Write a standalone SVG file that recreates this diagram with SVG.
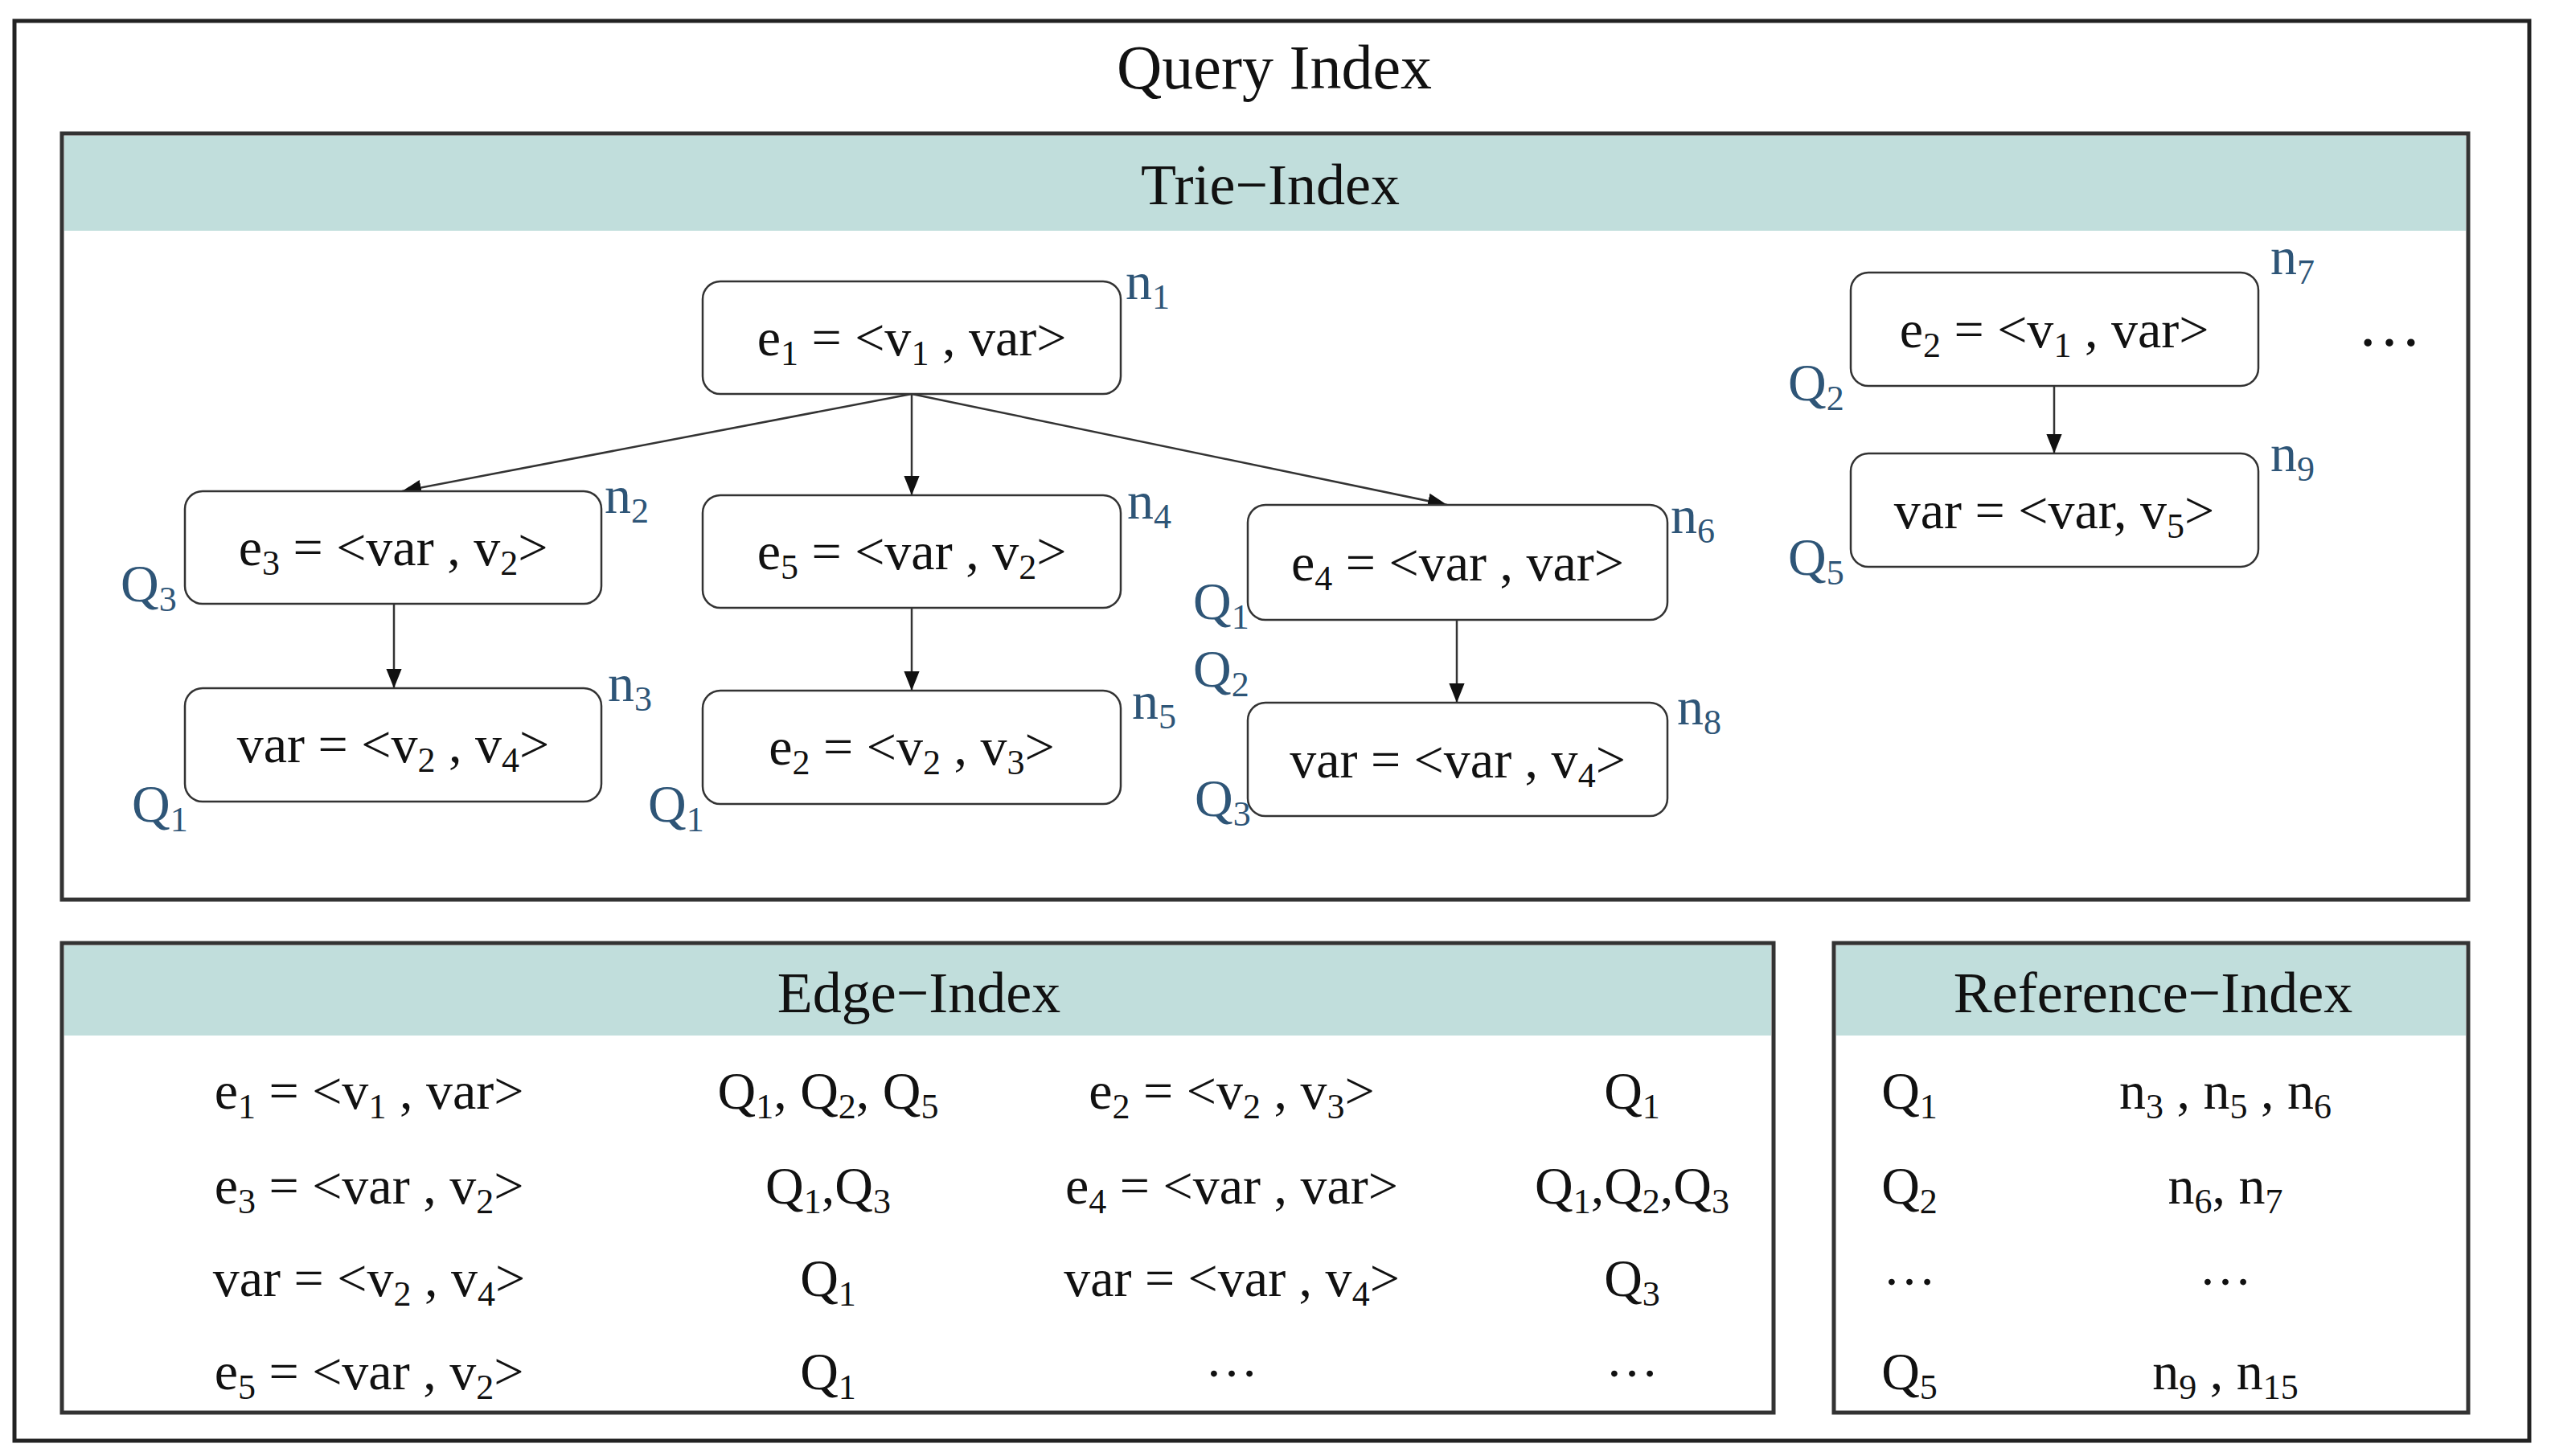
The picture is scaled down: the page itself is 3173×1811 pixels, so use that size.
<svg xmlns="http://www.w3.org/2000/svg" width="3173" height="1811" viewBox="0 0 3173 1811">
<style>
text{font-family:"Liberation Serif","DejaVu Serif",serif;fill:#111}
.t{font-size:66px;text-anchor:middle}
.h{font-size:72px;text-anchor:middle}
.lb{font-size:66px;fill:#2e5577}
.s{font-size:44px}
.node{fill:#fff;stroke:#333;stroke-width:2.5}
.panel{fill:#fff;stroke:#333;stroke-width:5}
.band{fill:#c1dedc}
.con line{stroke:#333;stroke-width:2.5;marker-end:url(#b)}
</style>
<defs>
<marker id="b" viewBox="0 0 10 10" refX="10" refY="5" markerWidth="24" markerHeight="24" markerUnits="userSpaceOnUse" orient="auto"><path d="M0,1L10,5L0,9z" fill="#111"/></marker></defs>
<rect x="0" y="0" width="3173" height="1811" fill="#fff"/>
<rect x="18" y="26" width="3128" height="1766" fill="none" stroke="#222" stroke-width="5"/>
<text class="h" x="1585" y="110" style="font-size:78px">Query Index</text>

<g id="trie-panel">
<rect class="panel" x="77" y="166" width="2993" height="953"/>
<rect class="band" x="80" y="169" width="2987" height="118"/>
<text class="h" x="1580" y="254">Trie−Index</text>
</g>

<g class="con" id="connectors">
<line x1="1134" y1="490" x2="500" y2="611"/>
<line x1="1134" y1="490" x2="1134" y2="616"/>
<line x1="1134" y1="490" x2="1800" y2="628"/>
<line x1="490" y1="751" x2="490" y2="856"/>
<line x1="1134" y1="756" x2="1134" y2="859"/>
<line x1="1812" y1="771" x2="1812" y2="874"/>
<line x1="2555" y1="480" x2="2555" y2="564"/>
</g>

<g id="n1"><rect class="node" x="874" y="350" width="520" height="140" rx="22"/>
<text class="t" x="1134" y="442">e<tspan class="s" dy="12">1</tspan><tspan dy="-12"> = &lt;v</tspan><tspan class="s" dy="12">1</tspan><tspan dy="-12"> , var&gt;</tspan></text>
<text class="lb" x="1400" y="372">n<tspan class="s" dy="12">1</tspan></text></g>

<g id="n2"><rect class="node" x="230" y="611" width="518" height="140" rx="22"/>
<text class="t" x="489" y="703">e<tspan class="s" dy="12">3</tspan><tspan dy="-12"> = &lt;var , v</tspan><tspan class="s" dy="12">2</tspan><tspan dy="-12">&gt;</tspan></text>
<text class="lb" x="752" y="638">n<tspan class="s" dy="12">2</tspan></text>
<text class="lb" x="150" y="748">Q<tspan class="s" dy="12">3</tspan></text></g>

<g id="n3"><rect class="node" x="230" y="856" width="518" height="141" rx="22"/>
<text class="t" x="489" y="948">var  = &lt;v<tspan class="s" dy="12">2</tspan><tspan dy="-12"> , v</tspan><tspan class="s" dy="12">4</tspan><tspan dy="-12">&gt;</tspan></text>
<text class="lb" x="756" y="872">n<tspan class="s" dy="12">3</tspan></text>
<text class="lb" x="164" y="1022">Q<tspan class="s" dy="12">1</tspan></text></g>

<g id="n4"><rect class="node" x="874" y="616" width="520" height="140" rx="22"/>
<text class="t" x="1134" y="708">e<tspan class="s" dy="12">5</tspan><tspan dy="-12"> = &lt;var , v</tspan><tspan class="s" dy="12">2</tspan><tspan dy="-12">&gt;</tspan></text>
<text class="lb" x="1402" y="645">n<tspan class="s" dy="12">4</tspan></text></g>

<g id="n5"><rect class="node" x="874" y="859" width="520" height="141" rx="22"/>
<text class="t" x="1134" y="951">e<tspan class="s" dy="12">2</tspan><tspan dy="-12"> = &lt;v</tspan><tspan class="s" dy="12">2</tspan><tspan dy="-12"> , v</tspan><tspan class="s" dy="12">3</tspan><tspan dy="-12">&gt;</tspan></text>
<text class="lb" x="1408" y="894">n<tspan class="s" dy="12">5</tspan></text>
<text class="lb" x="806" y="1022">Q<tspan class="s" dy="12">1</tspan></text></g>

<g id="n6"><rect class="node" x="1552" y="628" width="522" height="143" rx="22"/>
<text class="t" x="1813" y="722">e<tspan class="s" dy="12">4</tspan><tspan dy="-12"> = &lt;var , var&gt;</tspan></text>
<text class="lb" x="2078" y="663">n<tspan class="s" dy="12">6</tspan></text>
<text class="lb" x="1484" y="770">Q<tspan class="s" dy="12">1</tspan></text>
<text class="lb" x="1484" y="854">Q<tspan class="s" dy="12">2</tspan></text></g>

<g id="n8"><rect class="node" x="1552" y="874" width="522" height="141" rx="22"/>
<text class="t" x="1813" y="967">var = &lt;var , v<tspan class="s" dy="12">4</tspan><tspan dy="-12">&gt;</tspan></text>
<text class="lb" x="2086" y="901">n<tspan class="s" dy="12">8</tspan></text>
<text class="lb" x="1486" y="1015">Q<tspan class="s" dy="12">3</tspan></text></g>

<g id="n7"><rect class="node" x="2302" y="339" width="507" height="141" rx="22"/>
<text class="t" x="2555" y="432">e<tspan class="s" dy="12">2</tspan><tspan dy="-12"> = &lt;v</tspan><tspan class="s" dy="12">1</tspan><tspan dy="-12"> , var&gt;</tspan></text>
<text class="lb" x="2824" y="341">n<tspan class="s" dy="12">7</tspan></text>
<text class="lb" x="2224" y="498">Q<tspan class="s" dy="12">2</tspan></text></g>

<g id="n9"><rect class="node" x="2302" y="564" width="507" height="141" rx="22"/>
<text class="t" x="2555" y="657">var = &lt;var, v<tspan class="s" dy="12">5</tspan><tspan dy="-12">&gt;</tspan></text>
<text class="lb" x="2824" y="586">n<tspan class="s" dy="12">9</tspan></text>
<text class="lb" x="2224" y="715">Q<tspan class="s" dy="12">5</tspan></text></g>

<g id="more"><text class="t" x="2972" y="430" style="font-size:80px">…</text></g>

<g id="edge-index">
<rect class="panel" x="77" y="1173" width="2129" height="584"/>
<rect class="band" x="80" y="1176" width="2123" height="112"/>
<text class="h" x="1143" y="1259">Edge−Index</text>
<text class="t" x="459" y="1379">e<tspan class="s" dy="12">1</tspan><tspan dy="-12"> = &lt;v</tspan><tspan class="s" dy="12">1</tspan><tspan dy="-12"> , var&gt;</tspan></text>
<text class="t" x="1030" y="1379">Q<tspan class="s" dy="12">1</tspan><tspan dy="-12">, Q</tspan><tspan class="s" dy="12">2</tspan><tspan dy="-12">, Q</tspan><tspan class="s" dy="12">5</tspan></text>
<text class="t" x="1532" y="1379">e<tspan class="s" dy="12">2</tspan><tspan dy="-12"> = &lt;v</tspan><tspan class="s" dy="12">2</tspan><tspan dy="-12"> , v</tspan><tspan class="s" dy="12">3</tspan><tspan dy="-12">&gt;</tspan></text>
<text class="t" x="2030" y="1379">Q<tspan class="s" dy="12">1</tspan></text>
<text class="t" x="459" y="1497">e<tspan class="s" dy="12">3</tspan><tspan dy="-12"> = &lt;var , v</tspan><tspan class="s" dy="12">2</tspan><tspan dy="-12">&gt;</tspan></text>
<text class="t" x="1030" y="1497">Q<tspan class="s" dy="12">1</tspan><tspan dy="-12">,Q</tspan><tspan class="s" dy="12">3</tspan></text>
<text class="t" x="1532" y="1497">e<tspan class="s" dy="12">4</tspan><tspan dy="-12"> = &lt;var , var&gt;</tspan></text>
<text class="t" x="2030" y="1497">Q<tspan class="s" dy="12">1</tspan><tspan dy="-12">,Q</tspan><tspan class="s" dy="12">2</tspan><tspan dy="-12">,Q</tspan><tspan class="s" dy="12">3</tspan></text>
<text class="t" x="459" y="1612">var  = &lt;v<tspan class="s" dy="12">2</tspan><tspan dy="-12"> , v</tspan><tspan class="s" dy="12">4</tspan><tspan dy="-12">&gt;</tspan></text>
<text class="t" x="1030" y="1612">Q<tspan class="s" dy="12">1</tspan></text>
<text class="t" x="1532" y="1612">var = &lt;var , v<tspan class="s" dy="12">4</tspan><tspan dy="-12">&gt;</tspan></text>
<text class="t" x="2030" y="1612">Q<tspan class="s" dy="12">3</tspan></text>
<text class="t" x="459" y="1728">e<tspan class="s" dy="12">5</tspan><tspan dy="-12"> = &lt;var , v</tspan><tspan class="s" dy="12">2</tspan><tspan dy="-12">&gt;</tspan></text>
<text class="t" x="1030" y="1728">Q<tspan class="s" dy="12">1</tspan></text>
<text class="t" x="1532" y="1712">…</text>
<text class="t" x="2030" y="1712">…</text>
</g>

<g id="reference-index">
<rect class="panel" x="2281" y="1173" width="789" height="584"/>
<rect class="band" x="2284" y="1176" width="783" height="112"/>
<text class="h" x="2678" y="1259">Reference−Index</text>
<text class="t" x="2375" y="1379">Q<tspan class="s" dy="12">1</tspan></text>
<text class="t" x="2768" y="1379">n<tspan class="s" dy="12">3</tspan><tspan dy="-12"> , n</tspan><tspan class="s" dy="12">5</tspan><tspan dy="-12"> , n</tspan><tspan class="s" dy="12">6</tspan></text>
<text class="t" x="2375" y="1497">Q<tspan class="s" dy="12">2</tspan></text>
<text class="t" x="2768" y="1497">n<tspan class="s" dy="12">6</tspan><tspan dy="-12">, n</tspan><tspan class="s" dy="12">7</tspan></text>
<text class="t" x="2375" y="1598">…</text>
<text class="t" x="2768" y="1598">…</text>
<text class="t" x="2375" y="1728">Q<tspan class="s" dy="12">5</tspan></text>
<text class="t" x="2768" y="1728">n<tspan class="s" dy="12">9</tspan><tspan dy="-12"> , n</tspan><tspan class="s" dy="12">15</tspan></text>
</g>
</svg>
